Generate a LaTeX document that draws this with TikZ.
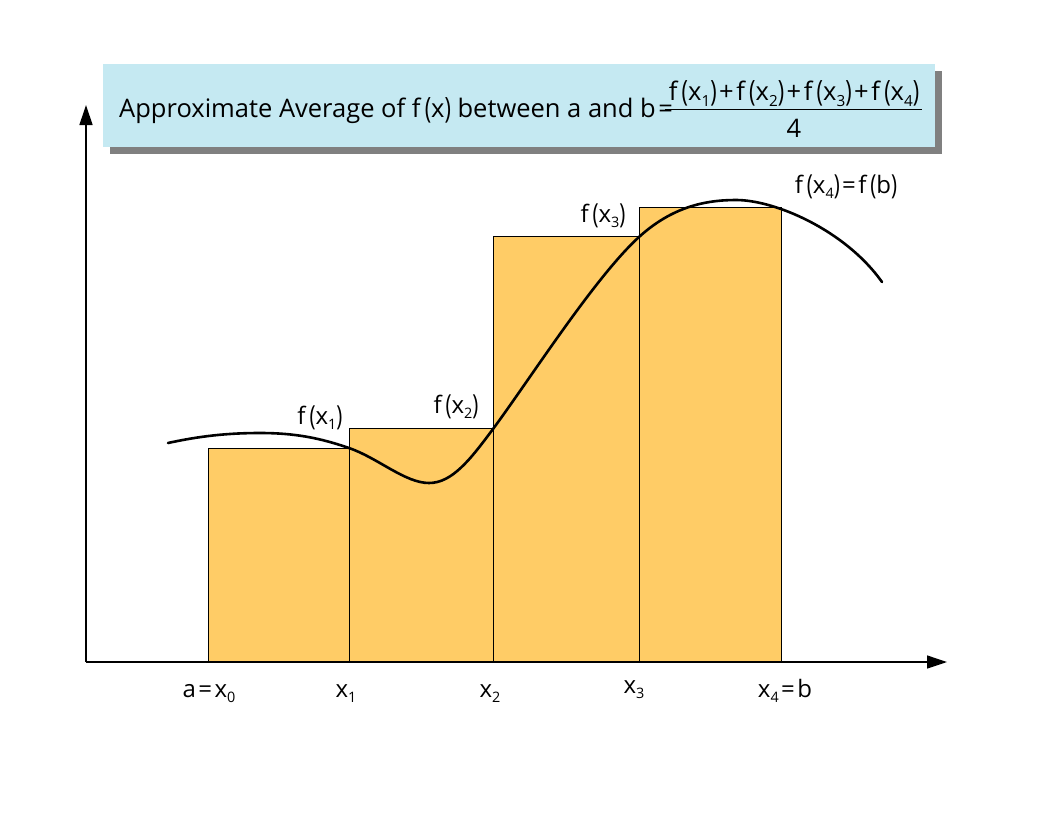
\documentclass[tikz,border=0pt]{standalone}
\usepackage{fontspec}
\setmainfont{Open Sans}
\usetikzlibrary{arrows.meta}
\definecolor{boxfill}{HTML}{C5E9F2}
\definecolor{shadowgray}{HTML}{808080}
\definecolor{barfill}{HTML}{FFCC66}
\newcommand\sbs[1]{\raisebox{-0.45ex}{\fontsize{0.6em}{0.6em}\selectfont #1}}
\newcommand\lpar{\raisebox{-0.06em}{\scalebox{0.85}[1.15]{(}}}
\newcommand\rpar{\raisebox{-0.06em}{\scalebox{0.85}[1.15]{)}}}
\newcommand\fx[1]{f\,\lpar x\sbs{#1}\rpar}
\newcommand\eqs{\kern0.1em=\kern0.1em}
\newcommand\pls{\kern0.1em+\kern0.1em}
\tikzset{
  axisline/.style={line width=1.3pt,-{Triangle[length=20pt,width=13pt]}},
  barrect/.style={draw=black,line width=0.9pt,fill=barfill},
  fcurve/.style={line width=2.6pt,line cap=round},
  lbl/.style={font=\fontsize{24}{28}\selectfont,inner sep=0pt,anchor=base},
  ttl/.style={font=\fontsize{25.5}{29}\selectfont,inner sep=0pt,anchor=base},
}
\begin{document}
\begin{tikzpicture}[x=1pt,y=-1pt]
\useasboundingbox (0,0) rectangle (1056,816);
% title box with shadow
\fill[shadowgray] (110,71) rectangle (942,154);
\fill[boxfill] (103,64) rectangle (935,147);
\node[ttl,anchor=base west] (title) at (119,117) {Approximate Average of f\,\lpar x\rpar{} between a and b\eqs};
\node[ttl] (num) at (794,100) {\fx{1}\pls\fx{2}\pls\fx{3}\pls\fx{4}};
\coordinate (barL) at (665,109);
\coordinate (barR) at (922,109);
\draw[line width=0.9pt] (barL) -- (barR);
\node[ttl] (den) at (794,137) {4};
% bars
\draw[barrect] (208,662) rectangle (349,448);
\draw[barrect] (349,662) rectangle (493,428);
\draw[barrect] (493,662) rectangle (639,236);
\draw[barrect] (639,662) rectangle (781,207);
% axes
\coordinate (O) at (86,662);
\coordinate (ytip) at (86,105);
\coordinate (xtip) at (947,662);
\draw[axisline] (O) -- (ytip);
\draw[axisline] (O) -- (xtip);
% curve
\draw[fcurve] (168,443) .. controls (200,436) and (228,433) .. (260,433)
  .. controls (295,433) and (320,438) .. (349,448)
  .. controls (378,458) and (405,483) .. (429,483)
  .. controls (452,483) and (470,460) .. (493,429)
  .. controls (530,379) and (595,277) .. (639,237)
  .. controls (672,207) and (705,200) .. (736,200)
  .. controls (775,200) and (845,230) .. (882,282);
% labels
\node[lbl] (f1) at (320,424) {\fx{1}};
\node[lbl] (f2) at (456,413) {\fx{2}};
\node[lbl] (f3) at (603,222) {\fx{3}};
\node[lbl] (f4) at (846,193) {\fx{4}\eqs f\,\lpar b\rpar};
\node[lbl] (l0) at (209,697) {a\eqs x\sbs{0}};
\node[lbl] (l1) at (346,697) {x\sbs{1}};
\node[lbl] (l2) at (490,697) {x\sbs{2}};
\node[lbl] (l3) at (634,693) {x\sbs{3}};
\node[lbl] (l4) at (785,697) {x\sbs{4}\eqs b};
\end{tikzpicture}
\end{document}
